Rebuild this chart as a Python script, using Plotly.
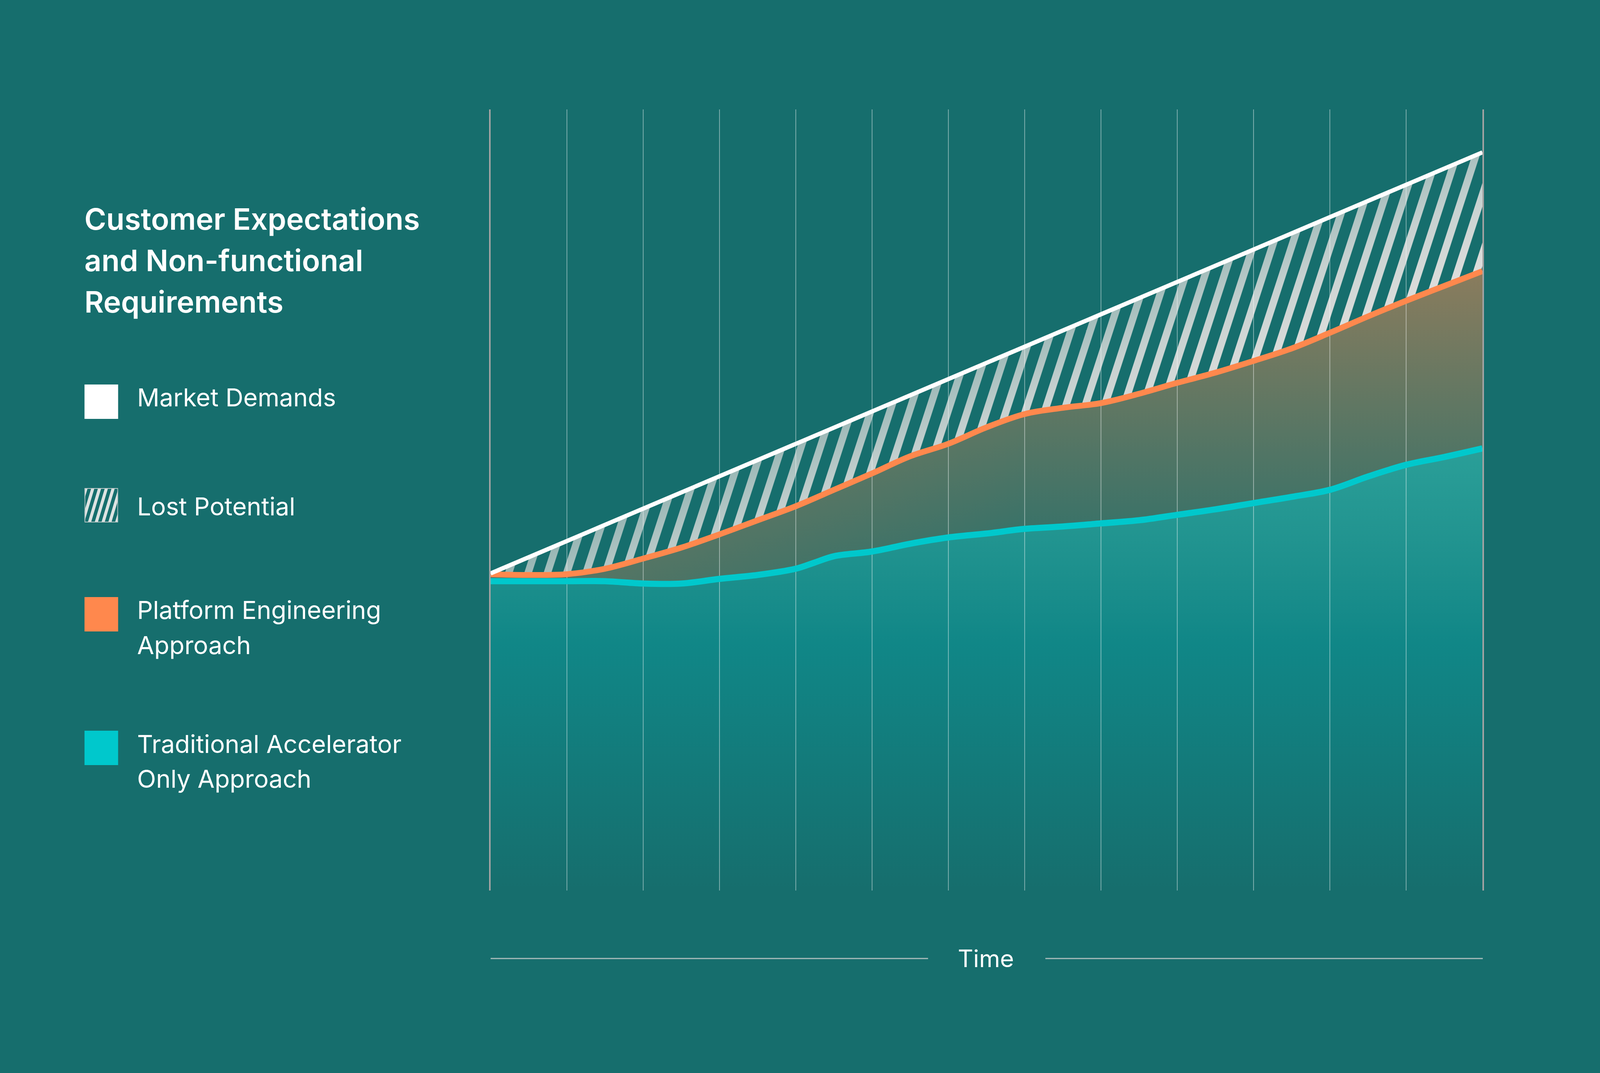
import base64
import plotly.graph_objs as go

# Datos (x: tiempo en intervalos de rejilla, y: nivel 0-100)
time_md = [0, 13]
market_demands = [40.6, 94.5]

time_pe = [0, 0.5, 1, 1.5, 2, 2.5, 3, 3.5, 4, 4.5, 5, 5.5, 6, 6.5, 7, 7.5, 8, 8.5,
           9, 9.5, 10, 10.5, 11, 11.5, 12, 12.5, 13]
platform_eng = [40.5, 40.4, 40.5, 41.2, 42.5, 43.9, 45.6, 47.4, 49.2, 51.3, 53.4, 55.6, 57.2,
                59.3, 61.0, 61.8, 62.4, 63.6, 65.0, 66.3, 67.8, 69.4, 71.4, 73.5, 75.5, 77.4, 79.3]

time_ta = [0, 1, 1.5, 2, 2.5, 3, 3.5, 4, 4.25, 4.5, 5, 5.5, 6, 6.5, 7, 7.5, 8, 8.5,
           9, 9.5, 10, 10.5, 11, 11.5, 12, 12.5, 13]
traditional = [39.6, 39.6, 39.6, 39.3, 39.3, 39.9, 40.4, 41.2, 42.0, 42.8, 43.4, 44.4, 45.2,
               45.7, 46.3, 46.6, 47.0, 47.4, 48.1, 48.8, 49.6, 50.4, 51.3, 53.0, 54.5, 55.5, 56.6]

grid_ticks = list(range(14))

title_lines = ["Customer Expectations", "and Non-functional", "Requirements"]
legend_labels = [["Market Demands"], ["Lost Potential"],
                 ["Platform Engineering", "Approach"],
                 ["Traditional Accelerator", "Only Approach"]]
axis_label = "Time"

# Colores
BG = "#166E6D"
WHITE = "#FFFFFF"
ORANGE = "#FF884D"
CYAN = "#00C8CC"
EDGE = "#A3A3A3"
FONT = "Inter, Noto Sans, sans-serif"

# Medidas tomadas en px de la imagen de referencia (4188x2746);
# SX/SY las pasan al tamaño útil de la ventana del navegador
W, H = 4188, 2746
SX, SY = 4095 / W, 1.0
SF = (SX + SY) / 2
ML, MR, MT, MB = 1285, 307, 280, 467
PW, PH = W - ML - MR, H - MT - MB
X_MAX, Y_MAX = 13, 100


def f(v):
    return v * SF


def to_paper(xp, yp):
    # convierte px de la imagen a coordenadas paper
    return (xp - ML) / PW, (H - MB - yp) / PH


def svg_uri(svg):
    return "data:image/svg+xml;base64," + base64.b64encode(svg.encode()).decode()


# Textura de rayas para "Lost Potential"
y_top = max(market_demands) + 1.5
y_bot = min(platform_eng) - 2
img_w = PW * SX
img_h = (y_top - y_bot) / Y_MAX * PH * SY
period, light = f(47.6), f(19)
stripes_svg = f'''<svg xmlns="http://www.w3.org/2000/svg" width="{img_w:.0f}" height="{img_h:.0f}" viewBox="0 0 {img_w:.1f} {img_h:.1f}" preserveAspectRatio="none">
<defs>
<linearGradient id="g" x1="0" y1="0" x2="1" y2="1">
<stop offset="0.47" stop-color="#8EB1AF"/>
<stop offset="0.56" stop-color="#C6D1D0"/>
<stop offset="0.645" stop-color="#DEDEDC"/>
</linearGradient>
<pattern id="p" width="{period:.2f}" height="{period:.2f}" patternUnits="userSpaceOnUse" patternTransform="rotate(18)">
<rect x="{light:.2f}" y="0" width="{period - light:.2f}" height="{period:.2f}" fill="{BG}"/>
</pattern>
</defs>
<rect width="100%" height="100%" fill="url(#g)"/>
<rect width="100%" height="100%" fill="url(#p)"/>
</svg>'''

swatch_svg = f'''<svg xmlns="http://www.w3.org/2000/svg" width="88" height="88" viewBox="0 0 88 88">
<defs><pattern id="p" width="17" height="17" patternUnits="userSpaceOnUse" patternTransform="rotate(17)">
<rect width="8" height="17" fill="#DDE3E2"/></pattern></defs>
<rect width="88" height="88" fill="{BG}"/>
<rect width="88" height="88" fill="url(#p)"/>
<rect x="1" y="1" width="86" height="86" fill="none" stroke="#B9C6C5" stroke-width="2"/>
</svg>'''

fig = go.Figure()

# Tapa por encima de la línea de demanda (oculta la textura)
fig.add_trace(go.Scatter(x=time_md, y=[Y_MAX] * len(time_md), mode="lines",
                         line=dict(width=0), hoverinfo="skip"))
fig.add_trace(go.Scatter(x=time_md, y=market_demands, mode="lines", line=dict(width=0),
                         fill="tonexty", fillcolor=BG, hoverinfo="skip"))

# Área naranja (opaca, degradado vertical)
fig.add_trace(go.Scatter(
    x=time_pe, y=platform_eng, mode="lines", line=dict(width=0, shape="spline"),
    fill="tozeroy",
    fillgradient=dict(type="vertical", start=0, stop=max(platform_eng),
                      colorscale=[[0, BG], [0.4, BG], [1, "rgb(138,124,93)"]]),
    hoverinfo="skip"))

# Área cian
fig.add_trace(go.Scatter(
    x=time_ta, y=traditional, mode="lines", line=dict(width=0, shape="spline"),
    fill="tozeroy",
    fillgradient=dict(type="vertical", start=0, stop=max(traditional),
                      colorscale=[[0, "rgba(0,200,204,0)"], [0.65, "rgba(0,200,204,0.32)"],
                                  [1, "rgba(0,200,204,0.5)"]]),
    hoverinfo="skip"))

# Tono cálido extra entre naranja y cian, más fuerte a la izquierda
fig.add_trace(go.Scatter(
    x=time_pe, y=platform_eng, mode="lines", line=dict(width=0, shape="spline"),
    fill="tonexty",
    fillgradient=dict(type="horizontal", start=0, stop=7,
                      colorscale=[[0, "rgba(255,136,77,0.25)"], [1, "rgba(255,136,77,0)"]]),
    hoverinfo="skip"))

# Rejilla vertical
gx, gy = [], []
for t in grid_ticks[1:-1]:
    gx += [t, t, None]
    gy += [0, Y_MAX, None]
fig.add_trace(go.Scatter(x=gx, y=gy, mode="lines",
                         line=dict(color="rgba(255,255,255,0.45)", width=2), hoverinfo="skip"))

# Líneas
fig.add_trace(go.Scatter(x=time_ta, y=traditional, mode="lines",
                         line=dict(color=CYAN, width=f(16), shape="spline")))
fig.add_trace(go.Scatter(x=time_pe, y=platform_eng, mode="lines",
                         line=dict(color=ORANGE, width=f(15), shape="spline")))
fig.add_trace(go.Scatter(x=time_md, y=market_demands, mode="lines",
                         line=dict(color=WHITE, width=f(11))))

images = [dict(source=svg_uri(stripes_svg), xref="x", yref="y", x=0, y=y_top,
               sizex=X_MAX, sizey=y_top - y_bot, sizing="stretch",
               xanchor="left", yanchor="top", layer="below")]

shapes = []
annotations = []

# Título de la leyenda
for i, line in enumerate(title_lines):
    px, py = to_paper(220, 560 + i * 106)
    annotations.append(dict(text=line, x=px, y=py, xref="paper", yref="paper",
                            xanchor="left", yanchor="middle", showarrow=False,
                            font=dict(family=FONT, size=f(77), color=WHITE, weight=600)))

# Leyenda: cuadro de color y textos (centros de cada línea en px)
swatch_centers = [1028, 1293, 1572, 1914]
text_centers = [[1017], [1296], [1561, 1651], [1904, 1993]]
swatch_fills = [WHITE, None, ORANGE, CYAN]
for centro, relleno, lineas, ys in zip(swatch_centers, swatch_fills, legend_labels, text_centers):
    x0, y0 = to_paper(222, centro + 44)
    x1, y1 = to_paper(310, centro - 44)
    if relleno:
        shapes.append(dict(type="rect", xref="paper", yref="paper", x0=x0, x1=x1, y0=y0, y1=y1,
                           fillcolor=relleno, line=dict(width=0)))
    else:
        images.append(dict(source=svg_uri(swatch_svg), xref="paper", yref="paper", x=x0, y=y1,
                           sizex=x1 - x0, sizey=y1 - y0, sizing="stretch",
                           xanchor="left", yanchor="top", layer="above"))
    for texto, yt in zip(lineas, ys):
        px, py = to_paper(358, yt)
        annotations.append(dict(text=texto, x=px, y=py, xref="paper", yref="paper",
                                xanchor="left", yanchor="middle", showarrow=False,
                                font=dict(family=FONT, size=f(64), color=WHITE)))

# Etiqueta del eje de tiempo con sus líneas
px, py = to_paper(2581, 2453)
annotations.append(dict(text=axis_label, x=px, y=py, xref="paper", yref="paper",
                        xanchor="center", yanchor="middle", showarrow=False,
                        font=dict(family=FONT, size=f(62), color=WHITE)))
for xa, xb in [(1285, 2430), (2737, 3882)]:
    x0, y0 = to_paper(xa, 2453)
    x1, _ = to_paper(xb, 2453)
    shapes.append(dict(type="line", xref="paper", yref="paper", x0=x0, x1=x1, y0=y0, y1=y0,
                       line=dict(color="#A9BCBB", width=f(3))))

fig.update_layout(
    width=round(W * SX), height=round(H * SY),
    margin=dict(l=ML * SX, r=MR * SX, t=MT * SY, b=MB * SY),
    paper_bgcolor=BG, plot_bgcolor=BG,
    showlegend=False,
    xaxis=dict(range=[0, X_MAX], showgrid=False, zeroline=False, showticklabels=False,
               showline=False, fixedrange=True),
    yaxis=dict(range=[0, Y_MAX], showgrid=False, zeroline=False, showticklabels=False,
               showline=True, mirror=True, linecolor=EDGE, linewidth=f(4), fixedrange=True),
    images=images,
    shapes=shapes,
    annotations=annotations,
)

fig.write_html("out.html", config={"displayModeBar": False},
               post_script="document.body.style.margin='0';"
                           "document.body.style.overflow='hidden';"
                           f"document.body.style.background='{BG}';")
